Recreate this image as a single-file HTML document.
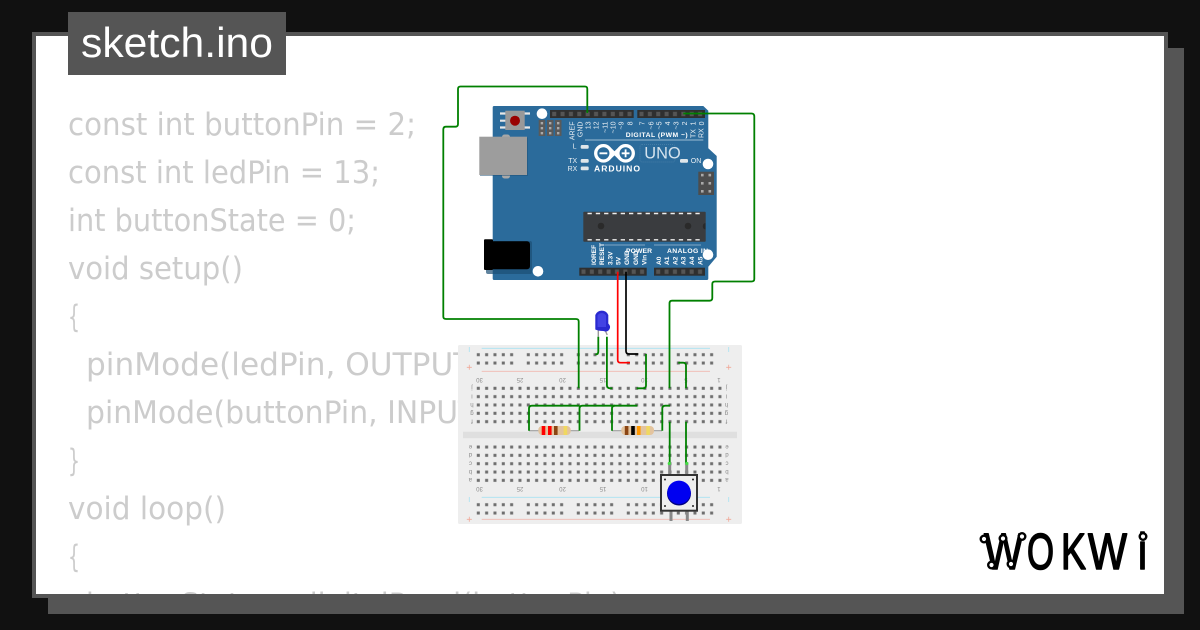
<!DOCTYPE html>
<html><head><meta charset="utf-8"><style>
html,body{margin:0;padding:0;background:#111;width:1200px;height:630px;overflow:hidden}
svg{display:block}
.c{font-family:"DejaVu Sans",sans-serif;font-size:31px;fill:#ccc}
.l{font-family:"Liberation Sans",sans-serif;font-size:7px;fill:#e8eef3}
.b{font-family:"Liberation Sans",sans-serif;font-size:6.8px;fill:#fff;font-weight:bold}
.n{font-family:"Liberation Sans",sans-serif;font-size:6px;fill:#8a8a8a}
.w{fill:none;stroke:#008000;stroke-width:1.8;stroke-linejoin:round}
.lg{font-family:"Liberation Sans",sans-serif;font-size:51px;fill:#000;stroke:#000;stroke-width:1.6;stroke-linejoin:round}
</style></head><body>
<svg width="1200" height="630" viewBox="0 0 1200 630" xmlns="http://www.w3.org/2000/svg">
<defs>
<pattern id="h" width="8.333" height="8.333" patternUnits="userSpaceOnUse"><rect x="2.7" y="2.7" width="3" height="3" fill="#6e6e6e"/></pattern>
<pattern id="p" width="8.37" height="8" patternUnits="userSpaceOnUse"><rect x="2.2" y="1.8" width="4" height="4.4" fill="#555"/></pattern>
<clipPath id="cl"><rect x="36" y="36" width="1128" height="558"/></clipPath>
</defs>
<rect width="1200" height="630" fill="#111"/>
<rect x="48" y="48" width="1136" height="566" fill="#555"/>
<rect x="32" y="32" width="1136" height="566" fill="#555"/>
<rect x="36" y="36" width="1128" height="558" fill="#fff"/>

<g clip-path="url(#cl)" class="c">
<text x="68" y="135" textLength="348" lengthAdjust="spacingAndGlyphs">const int buttonPin = 2;</text>
<text x="68" y="183" textLength="312" lengthAdjust="spacingAndGlyphs">const int ledPin = 13;</text>
<text x="68" y="231" textLength="288" lengthAdjust="spacingAndGlyphs">int buttonState = 0;</text>
<text x="68" y="279" textLength="175" lengthAdjust="spacingAndGlyphs">void setup()</text>
<text x="68" y="327" textLength="12" lengthAdjust="spacingAndGlyphs">{</text>
<text x="86" y="375" textLength="409" lengthAdjust="spacingAndGlyphs">pinMode(ledPin, OUTPUT);</text>
<text x="86" y="423" textLength="412" lengthAdjust="spacingAndGlyphs">pinMode(buttonPin, INPUT);</text>
<text x="68" y="471" textLength="12" lengthAdjust="spacingAndGlyphs">}</text>
<text x="68" y="519" textLength="158" lengthAdjust="spacingAndGlyphs">void loop()</text>
<text x="68" y="567" textLength="12" lengthAdjust="spacingAndGlyphs">{</text>
<text x="86" y="615" textLength="545" lengthAdjust="spacingAndGlyphs">buttonState = digitalRead(buttonPin);</text>
</g>

<rect x="68" y="12" width="218" height="63" fill="#555"/>
<text x="81" y="57" font-family="'Liberation Sans',sans-serif" font-size="42" fill="#fff" textLength="192" lengthAdjust="spacingAndGlyphs">sketch.ino</text>

<!-- breadboard -->
<rect x="458" y="345" width="284" height="179" rx="1.5" fill="#eeeeee"/>
<rect x="463" y="431.7" width="274" height="6.5" fill="#dfdfdf"/>
<g stroke-width="0.8" fill="none">
<path d="M481.7 348.3H710M481.7 497.3H710" stroke="#a8e2f2"/>
<path d="M481.7 371.3H710M481.7 519.3H710" stroke="#f0b8b0"/>
<path d="M469.3 347v5M728.7 347v5M469.3 497v5M728.7 497v5" stroke="#a8e2f2"/>
<path d="M466.8 367.3h5M469.3 364.8v5M726.2 367.3h5M728.7 364.8v5M466.8 519.3h5M469.3 516.8v5M726.2 519.3h5M728.7 516.8v5" stroke="#f0a898"/>
</g>
<g fill="url(#h)">
<rect transform="translate(474.1,384.1)" width="250" height="41.67"/>
<rect transform="translate(474.1,442.83)" width="250" height="41.67"/>
<rect transform="translate(474.1,350.5)" width="41.67" height="16.67"/>
<rect transform="translate(524.1,350.5)" width="41.67" height="16.67"/>
<rect transform="translate(574.1,350.5)" width="41.67" height="16.67"/>
<rect transform="translate(624.1,350.5)" width="41.67" height="16.67"/>
<rect transform="translate(674.1,350.5)" width="41.67" height="16.67"/>
<rect transform="translate(474.1,500.5)" width="41.67" height="16.67"/>
<rect transform="translate(524.1,500.5)" width="41.67" height="16.67"/>
<rect transform="translate(574.1,500.5)" width="41.67" height="16.67"/>
<rect transform="translate(624.1,500.5)" width="41.67" height="16.67"/>
<rect transform="translate(674.1,500.5)" width="41.67" height="16.67"/>
</g>
<g class="n" text-anchor="middle">
<text transform="translate(479.5,378) rotate(180)">30</text><text transform="translate(520,378) rotate(180)">25</text><text transform="translate(562.5,378) rotate(180)">20</text><text transform="translate(603,378) rotate(180)">15</text><text transform="translate(644.5,378) rotate(180)">10</text><text transform="translate(686,378) rotate(180)">5</text><text transform="translate(719,378) rotate(180)">1</text>
<text transform="translate(479.5,487) rotate(180)">30</text><text transform="translate(520,487) rotate(180)">25</text><text transform="translate(562.5,487) rotate(180)">20</text><text transform="translate(603,487) rotate(180)">15</text><text transform="translate(644.5,487) rotate(180)">10</text><text transform="translate(719,487) rotate(180)">1</text>
<text transform="translate(472,386) rotate(180)">j</text><text transform="translate(472,394.5) rotate(180)">i</text><text transform="translate(472,403) rotate(180)">h</text><text transform="translate(472,411.5) rotate(180)">g</text><text transform="translate(472,419.5) rotate(180)">f</text>
<text transform="translate(726.5,386) rotate(180)">j</text><text transform="translate(726.5,394.5) rotate(180)">i</text><text transform="translate(726.5,403) rotate(180)">h</text><text transform="translate(726.5,411.5) rotate(180)">g</text><text transform="translate(726.5,419.5) rotate(180)">f</text>
<text transform="translate(470.5,445) rotate(180)">e</text><text transform="translate(470.5,453) rotate(180)">d</text><text transform="translate(470.5,461.5) rotate(180)">c</text><text transform="translate(470.5,470) rotate(180)">b</text><text transform="translate(470.5,478) rotate(180)">a</text>
<text transform="translate(727,445) rotate(180)">e</text><text transform="translate(727,453) rotate(180)">d</text><text transform="translate(727,461.5) rotate(180)">c</text><text transform="translate(727,470) rotate(180)">b</text><text transform="translate(727,478) rotate(180)">a</text>
</g>

<!-- arduino -->
<path d="M494 106H703.3L708.3 110.7V148.3L716.7 156V256.7L708.3 266.7V278.5Q708.3 280 706.8 280H494Q492.7 280 492.7 278.5V107.5Q492.7 106 494 106Z" fill="#2b6b9b"/>
<g fill="#2f2f2f">
<rect x="550" y="110" width="83.7" height="8"/><rect x="637.3" y="110" width="67.7" height="8"/>
<rect x="579.3" y="267.7" width="67.4" height="8"/><rect x="654" y="267.7" width="51" height="8"/>
</g>
<g fill="url(#p)">
<rect transform="translate(550,110)" width="83.7" height="8"/><rect transform="translate(637.3,110)" width="67" height="8"/>
<rect transform="translate(579.3,267.7)" width="67" height="8"/><rect transform="translate(654,267.7)" width="50.2" height="8"/>
</g>
<g fill="#fff">
<circle cx="542" cy="113.7" r="5.3"/><circle cx="708" cy="164" r="5.3"/><circle cx="708" cy="254.7" r="5.3"/><circle cx="538" cy="271.3" r="5.3"/>
</g>
<!-- reset -->
<path d="M500 113.5h6M500 120.7h6M500 127.5h6M524 113.5h6M524 127.5h6" stroke="#e8e8e8" stroke-width="2.2"/>
<rect x="505.3" y="110.7" width="19.4" height="19.3" fill="#999"/>
<circle cx="515" cy="120.7" r="5" fill="#990000"/>
<!-- icsp -->
<g fill="#5a5a5a"><rect x="538.7" y="120" width="6.5" height="16"/><rect x="547" y="120" width="6.5" height="16"/><rect x="555" y="120" width="6.5" height="16"/></g>
<g fill="#a9a9a9"><rect x="540.7" y="122" width="2.4" height="2.4"/><rect x="540.7" y="127" width="2.4" height="2.4"/><rect x="540.7" y="132" width="2.4" height="2.4"/><rect x="549" y="122" width="2.4" height="2.4"/><rect x="549" y="127" width="2.4" height="2.4"/><rect x="549" y="132" width="2.4" height="2.4"/><rect x="557" y="122" width="2.4" height="2.4"/><rect x="557" y="127" width="2.4" height="2.4"/><rect x="557" y="132" width="2.4" height="2.4"/></g>
<rect x="698.3" y="171.7" width="15.7" height="23.3" fill="#4d4d4d"/>
<g fill="#a9a9a9"><rect x="701" y="173.8" width="2.6" height="2.6"/><rect x="708.5" y="173.8" width="2.6" height="2.6"/><rect x="701" y="182" width="2.6" height="2.6"/><rect x="708.5" y="182" width="2.6" height="2.6"/><rect x="701" y="190" width="2.6" height="2.6"/><rect x="708.5" y="190" width="2.6" height="2.6"/></g>
<!-- usb -->
<rect x="502" y="134.5" width="8" height="44" rx="2.5" fill="#a8a8a8"/>
<rect x="480" y="137.5" width="48" height="38.5" fill="#1d4f75" opacity=".5"/>
<rect x="479.3" y="136.7" width="47.7" height="38.3" fill="#9d9d9d"/>
<!-- jack -->
<rect x="486" y="241" width="46" height="33" rx="2" fill="#1d4f75" opacity=".7"/>
<rect x="484" y="239.3" width="9" height="30.7" rx="1" fill="#000"/>
<rect x="490" y="241.3" width="40" height="28" rx="3" fill="#000"/>
<!-- chip -->
<rect x="583.3" y="211.7" width="122.4" height="30" rx="0.8" fill="#3a3c3f"/>
<path d="M587.5 213.5H702M587.5 239.8H702" stroke="#eee" stroke-width="1.4" stroke-dasharray="4.3 4"/>
<circle cx="601" cy="226" r="3.3" fill="#2a2a2a"/><circle cx="688" cy="226" r="3.3" fill="#2a2a2a"/><path d="M705.5 223a3.3 3.3 0 0 0 0 6.5z" fill="#2a2a2a"/>
<!-- leds -->
<g fill="#dfe6ea">
<rect x="580.7" y="145" width="8" height="3.8" rx="1.2"/><rect x="580.7" y="159" width="8" height="3.8" rx="1.2"/><rect x="580.7" y="166.5" width="8" height="3.8" rx="1.2"/><rect x="680" y="159" width="8" height="3.8" rx="1.2"/>
</g>
<g class="l" text-anchor="middle">
<text x="574.6" y="148.3">L</text><text x="572.7" y="163">TX</text><text x="572.5" y="171">RX</text><text x="696" y="163">ON</text>
</g>
<!-- logo -->
<g fill="none" stroke="#fff" stroke-width="3.3"><circle cx="603.4" cy="153.3" r="7.7"/><circle cx="625.6" cy="153.3" r="7.7"/><path d="M608.8 147.8L620.2 158.8M608.8 158.8L620.2 147.8" stroke-width="3"/></g>
<path d="M599.5 153.3h7.8M621.7 153.3h7.8M625.6 149.4v7.8" stroke="#fff" stroke-width="1.8"/>
<text x="594" y="171.6" font-family="'Liberation Sans',sans-serif" font-weight="bold" font-size="8.6" fill="#fff" textLength="46" lengthAdjust="spacing">ARDUINO</text>
<rect x="640" y="144.5" width="35" height="17.5" rx="2" fill="none" stroke="#5f90b3" stroke-width=".5" stroke-dasharray="1 1"/>
<text x="644.3" y="158.3" font-family="'Liberation Sans',sans-serif" font-size="17" fill="#d5e3ee" textLength="36.4" lengthAdjust="spacingAndGlyphs">UNO</text>
<text x="625.7" y="137" class="b" textLength="62" lengthAdjust="spacing">DIGITAL (PWM ~)</text>
<path d="M585 140H703.3" stroke="#9dbcd3" stroke-width="1"/>
<path d="M604.3 245H645M654 245H701" stroke="#9dbcd3" stroke-width=".7"/>
<text x="626" y="252.8" class="b" textLength="26" lengthAdjust="spacing">POWER</text>
<text x="667" y="252.8" class="b" textLength="41" lengthAdjust="spacing">ANALOG IN</text>
<g class="l" text-anchor="end">
<text transform="translate(574.5,121.5) rotate(-90)">AREF</text>
<text transform="translate(582.5,121.5) rotate(-90)">GND</text>
<text transform="translate(590.5,121.5) rotate(-90)">13</text><text transform="translate(598.7,121.5) rotate(-90)">12</text><text transform="translate(607.7,121.5) rotate(-90)">~11</text><text transform="translate(615.7,121.5) rotate(-90)">~10</text><text transform="translate(623.7,121.5) rotate(-90)">~9</text><text transform="translate(632.4,121.5) rotate(-90)">8</text>
<text transform="translate(644.4,121.5) rotate(-90)">7</text><text transform="translate(653.4,121.5) rotate(-90)">~6</text><text transform="translate(661.4,121.5) rotate(-90)">~5</text><text transform="translate(670,121.5) rotate(-90)">4</text><text transform="translate(678.7,121.5) rotate(-90)">~3</text><text transform="translate(687,121.5) rotate(-90)">2</text><text transform="translate(695.7,121.5) rotate(-90)">1</text><text transform="translate(704,121.5) rotate(-90)">0</text>
<text transform="translate(695.5,138) rotate(-90)" text-anchor="start">TX</text><text transform="translate(703.5,138) rotate(-90)" text-anchor="start">RX</text>
</g>
<g class="b" style="font-size:6.6px">
<text transform="translate(596,265) rotate(-90)">IOREF</text><text transform="translate(604,265) rotate(-90)">RESET</text><text transform="translate(612.3,265) rotate(-90)">3.3V</text><text transform="translate(620.7,265) rotate(-90)">5V</text><text transform="translate(629,265) rotate(-90)">GND</text><text transform="translate(638,265) rotate(-90)">GND</text><text transform="translate(646.3,265) rotate(-90)">Vin</text>
<text transform="translate(661,265) rotate(-90)">A0</text><text transform="translate(669,265) rotate(-90)">A1</text><text transform="translate(677.3,265) rotate(-90)">A2</text><text transform="translate(685.7,265) rotate(-90)">A3</text><text transform="translate(694,265) rotate(-90)">A4</text><text transform="translate(702.3,265) rotate(-90)">A5</text>
</g>

<!-- LED -->
<path d="M598.3 330v6.7M605.5 331l1.7 4" stroke="#999" stroke-width="1.4" fill="none"/>
<path d="M595.3 329.5V315a7 7 0 0 1 13 0v8.5q3 3 1 6t-6 1.5q-5 0-8-1.5z" fill="#2a2ad0"/>
<path d="M597.5 327V315.5a5 5 0 0 1 8.5 0V327z" fill="#4a4ae8" opacity=".8"/>

<!-- resistors -->
<path d="M529 430.7H579M612 430.7H662" stroke="#aaa" stroke-width="1.4"/>
<rect x="538.3" y="426" width="32.4" height="9" rx="3.8" fill="#e3c49e"/>
<rect x="541.7" y="426" width="3.6" height="9" fill="#f00"/><rect x="548" y="426" width="3.6" height="9" fill="#f00"/><rect x="554" y="426" width="3.6" height="9" fill="#8b4513"/><rect x="563.6" y="426" width="3.6" height="9" fill="#f0d860"/>
<rect x="621.3" y="426" width="32.7" height="9" rx="3.8" fill="#e3c49e"/>
<rect x="624.8" y="426" width="3.6" height="9" fill="#8b4513"/><rect x="631.2" y="426" width="3.6" height="9" fill="#000"/><rect x="637" y="426" width="3.6" height="9" fill="#ff9800"/><rect x="646.3" y="426" width="3.6" height="9" fill="#f0d860"/>

<!-- button -->
<path d="M669.7 464v11M686.7 464v11M671 511v10M687.3 511v10" stroke="#888" stroke-width="3"/>
<rect x="661" y="475" width="36" height="35.7" fill="#eee" stroke="#333" stroke-width="2"/>
<g fill="#222"><circle cx="665" cy="506" r="1"/><circle cx="693" cy="506" r="1"/><circle cx="665" cy="479.5" r="1"/><circle cx="693" cy="479.5" r="1"/></g>
<circle cx="679" cy="493.5" r="12" fill="#000080"/>
<circle cx="679" cy="492.3" r="11.7" fill="#0000f0"/>

<!-- wires -->
<g class="w">
<path d="M587.3 113V89Q587.3 86.5 585 86.5H460.5Q458 86.5 458 89V124Q458 126.7 455.5 126.7H446Q443.3 126.7 443.3 129.5V316.5Q443.3 319 446 319H576Q578.7 319 578.7 321.5V388.3"/>
<path d="M683.3 113.5H751.5Q754.3 113.5 754.3 116.5V279Q754.3 281.5 751.5 281.5H715Q712.3 281.5 712.3 284V298Q712.3 300.7 709.5 300.7H672Q669.5 300.7 669.5 303.5V388.3"/>
<path d="M598.3 336.7V351.5Q598.3 354.3 596 354.3H595.3"/>
<path d="M606.9 336.7V385Q606.9 388.3 610 388.3H612.3"/>
<path d="M646 354V385.5Q646 388.3 643 388.3H636.7"/>
<path d="M678.3 362.7H683Q686 362.7 686 365.5V388.3"/>
<path d="M529 430.7V408.5Q529 405.7 532 405.7H579.5"/>
<path d="M579.5 430.7V408.5Q579.5 405.7 582.5 405.7H637.3"/>
<path d="M612 430.7V408.5Q612 405.7 615 405.7"/>
<path d="M662.3 430.7V408.5Q662.3 405.7 665.3 405.7H670"/>
<path d="M669.7 421.7V463.3M686 421.7V463.3"/>
</g>
<path d="M617.7 271.7V360Q617.7 362.7 620.5 362.7H630" fill="none" stroke="#f00" stroke-width="1.7"/>
<path d="M626 271.7V351Q626 354 629 354H638.3" fill="none" stroke="#000" stroke-width="1.7"/>
<circle cx="669.3" cy="463.5" r="1.6" fill="#44dd44"/><circle cx="686.8" cy="463.5" r="1.6" fill="#44dd44"/>

<!-- Wokwi logo -->
<text class="lg" x="984" y="569" textLength="39" lengthAdjust="spacingAndGlyphs">W</text>
<text class="lg" x="1027" y="569" textLength="27" lengthAdjust="spacingAndGlyphs">O</text>
<text class="lg" x="1061" y="569" textLength="25" lengthAdjust="spacingAndGlyphs">K</text>
<text class="lg" x="1088" y="569" textLength="39" lengthAdjust="spacingAndGlyphs">W</text>
<text class="lg" x="1138" y="569" textLength="9" lengthAdjust="spacingAndGlyphs">i</text>
<g fill="#fff" stroke="#000" stroke-width="2.4"><circle cx="984" cy="539" r="3.3"/><circle cx="1003" cy="538.5" r="3.3"/><circle cx="1022" cy="536.5" r="3.3"/><circle cx="991.5" cy="565" r="3.3"/><circle cx="1011" cy="564" r="3.3"/><circle cx="1143" cy="536.5" r="3.3"/></g>
</svg>
</body></html>
